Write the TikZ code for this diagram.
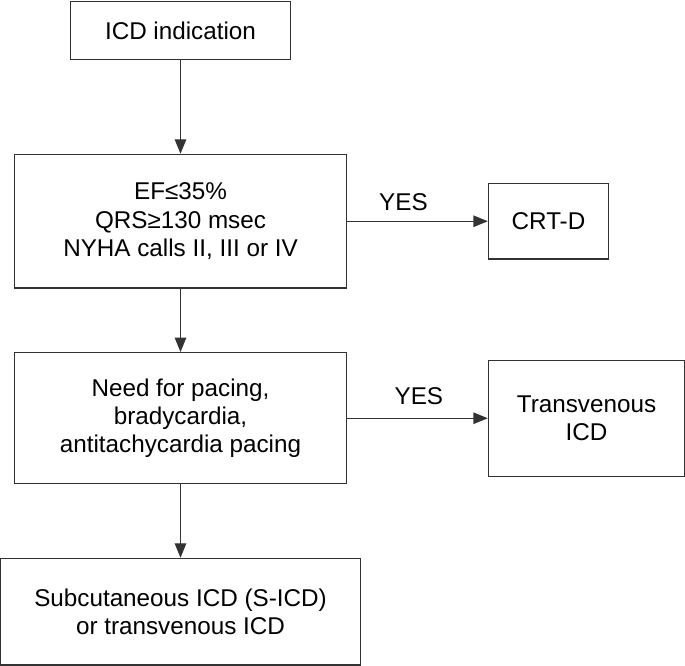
\documentclass[tikz,border=0pt]{standalone}
\usepackage{fontspec}
\setmainfont{Liberation Sans}
\usetikzlibrary{arrows.meta}

\begin{document}
\begin{tikzpicture}[
  >={Triangle[length=0.29cm,width=0.23cm]},
  every node/.style={font=\fontsize{13.8}{16.2}\selectfont},
  box/.style={draw=black!80, line width=0.8pt, align=center, inner sep=2pt},
  yes/.style={anchor=base}
]
  \useasboundingbox (0,0) rectangle (13.7,-13.32);

  \node[box, minimum width=4.40cm, minimum height=1.15cm] (icd) at (3.61,-0.61) {ICD indication};
  \node[box, minimum width=6.64cm, minimum height=2.67cm] (crit) at (3.61,-4.425) {EF≤35\%\\QRS≥130 msec\\NYHA calls II, III or IV};
  \node[box, minimum width=2.40cm, minimum height=1.51cm] (crtd) at (10.97,-4.425) {CRT-D};
  \node[box, minimum width=6.64cm, minimum height=2.62cm] (pacing) at (3.61,-8.365) {Need for pacing,\\bradycardia,\\antitachycardia pacing};
  \node[box, minimum width=3.92cm, minimum height=2.32cm] (tvicd) at (11.73,-8.365) {Transvenous\\ICD};
  \node[box, minimum width=7.19cm, minimum height=2.13cm] (sicd) at (3.61,-12.235) {Subcutaneous ICD (S-ICD)\\or transvenous ICD};

  \draw[->, draw=black!80, line width=0.8pt] (icd) -- (crit);
  \draw[->, draw=black!80, line width=0.8pt] (crit) -- (pacing);
  \draw[->, draw=black!80, line width=0.8pt] (pacing) -- (sicd);
  \draw[->, draw=black!80, line width=0.8pt] (crit) -- node[yes, pos=0.40, yshift=0.22cm] {YES} (crtd);
  \draw[->, draw=black!80, line width=0.8pt] (pacing) -- node[yes, pos=0.51, yshift=0.28cm] {YES} (tvicd);
\end{tikzpicture}
\end{document}
